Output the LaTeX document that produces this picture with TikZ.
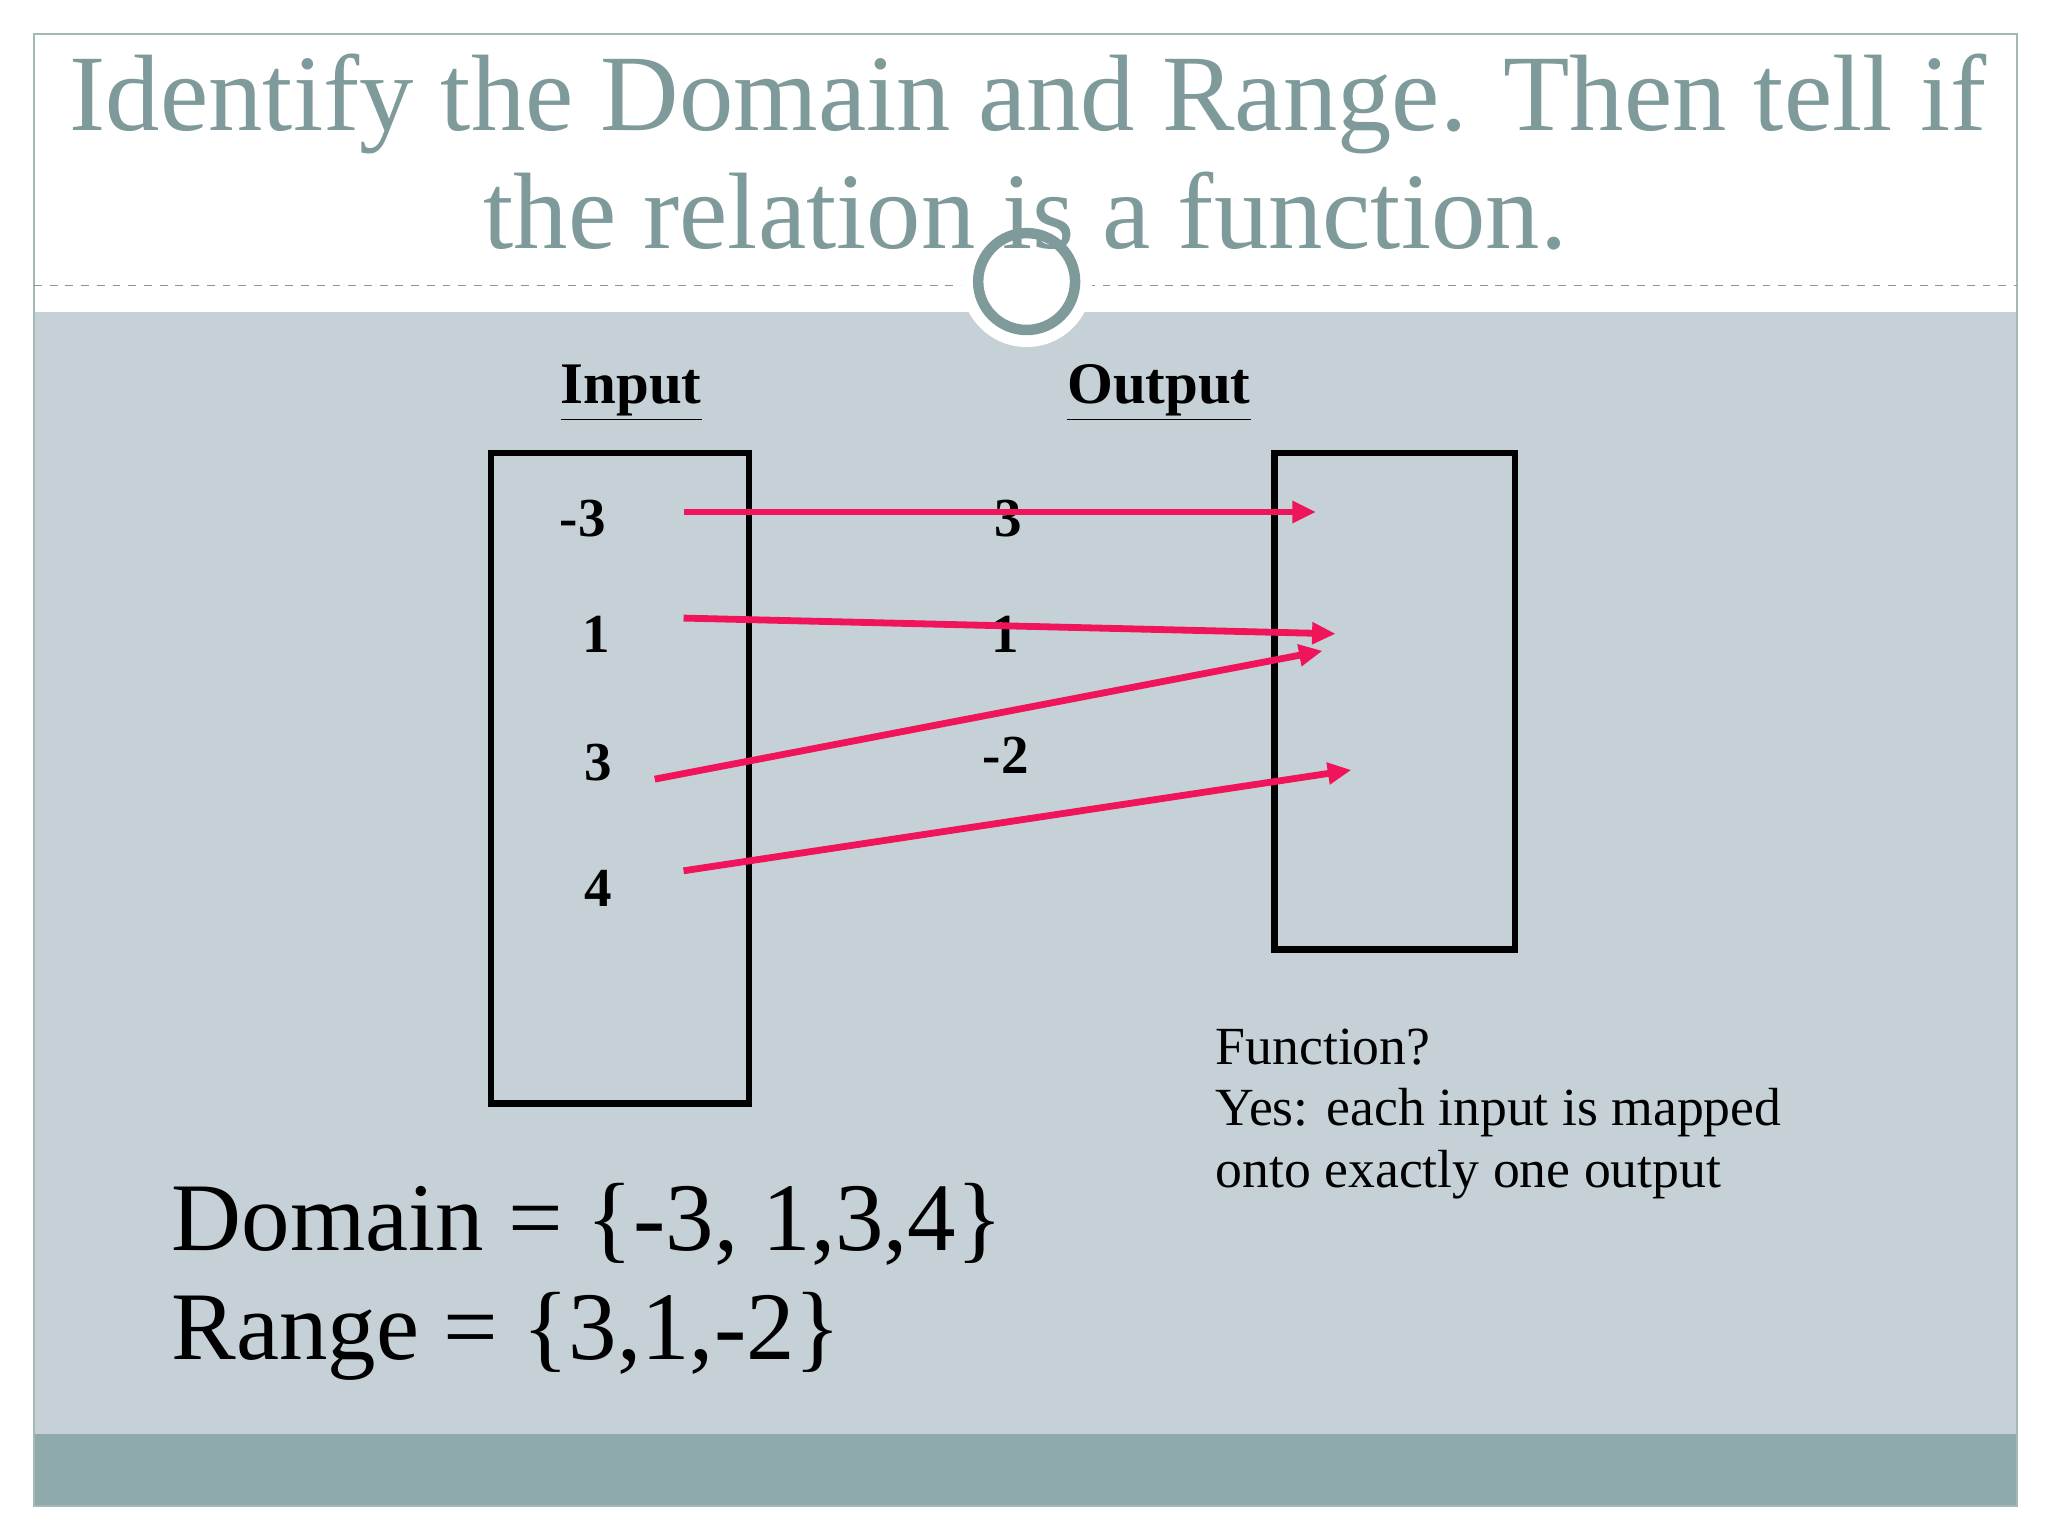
\documentclass[tikz,border=0pt]{standalone}
\usepackage{fontspec}
\setmainfont{Liberation Serif}
\usetikzlibrary{arrows.meta}
\definecolor{ttl}{HTML}{7F9A9A}
\definecolor{bodyc}{HTML}{C5D1D7}
\definecolor{band}{HTML}{8FAAAA}
\definecolor{pinkc}{HTML}{F0145A}
\tikzset{
  num/.style={font=\fontsize{21}{24}\selectfont\bfseries, anchor=base},
  boxc/.style={draw=black, line width=2.6pt},
  arr/.style={pinkc, line width=2.6pt, -{Triangle[length=9pt,width=8pt]}},
  hdr/.style={font=\fontsize{22.5}{26}\selectfont\bfseries, anchor=base}
}
\begin{document}
\begin{tikzpicture}[x=0.5pt,y=-0.5pt]
\useasboundingbox (0,0) rectangle (1564,1173);
\fill[white] (0,0) rectangle (1564,1173);
\fill[bodyc] (26,238) rectangle (1540,1095);
\fill[band] (26,1095) rectangle (1540,1150);
\draw[ttl!70, line width=0.8pt] (26,26) rectangle (1540,1150);
\draw[ttl, dashed, line width=0.6pt] (26,218) -- (1540,218);
\fill[white] (784,215) circle (50);
\draw[ttl, line width=4pt] (784,215) circle (37);
\node[text=ttl, font=\fontsize{41.5}{46}\selectfont, anchor=base] (t1) at (785,100) {Identify the Domain and Range. Then tell if};
\node[text=ttl, font=\fontsize{41.5}{46}\selectfont, anchor=base] (t2) at (783,190) {the relation is a function.};
\node[hdr] (hin) at (482,308) {\underline{Input}};
\node[hdr] (hout) at (885,308) {\underline{Output}};
\draw[boxc] (375,346) rectangle (572,843);
\draw[boxc] (973,346) rectangle (1157,725);
\node[num] (i1) at (445,410) {-3};
\node[num] (i2) at (455,498) {1};
\node[num] (i3) at (457,596) {3};
\node[num] (i4) at (457,692) {4};
\node[num] (o1) at (770,410) {3};
\node[num] (o2) at (768,498) {1};
\node[num] (o3) at (768,591) {-2};
\coordinate (a1) at (522,391); \coordinate (b1) at (1005,391);
\coordinate (a2) at (522,472); \coordinate (b2) at (1020,484);
\coordinate (a3) at (500,595); \coordinate (b3) at (1010,497);
\coordinate (a4) at (522,665); \coordinate (b4) at (1032,588);
\draw[arr] (a1) -- (b1);
\draw[arr] (a2) -- (b2);
\draw[arr] (a3) -- (b3);
\draw[arr] (a4) -- (b4);
\node[font=\fontsize{37}{42}\selectfont, anchor=base west] (dom) at (124,955) {Domain = \{-3, 1,3,4\}};
\node[font=\fontsize{37}{42}\selectfont, anchor=base west] (rng) at (124,1038) {Range = \{3,1,-2\}};
\node[font=\fontsize{20.5}{23.5}\selectfont, anchor=north west, align=left, inner sep=0pt] (fn) at (928,785) {Function?\\Yes: each input is mapped\\onto exactly one output};
\end{tikzpicture}
\end{document}
